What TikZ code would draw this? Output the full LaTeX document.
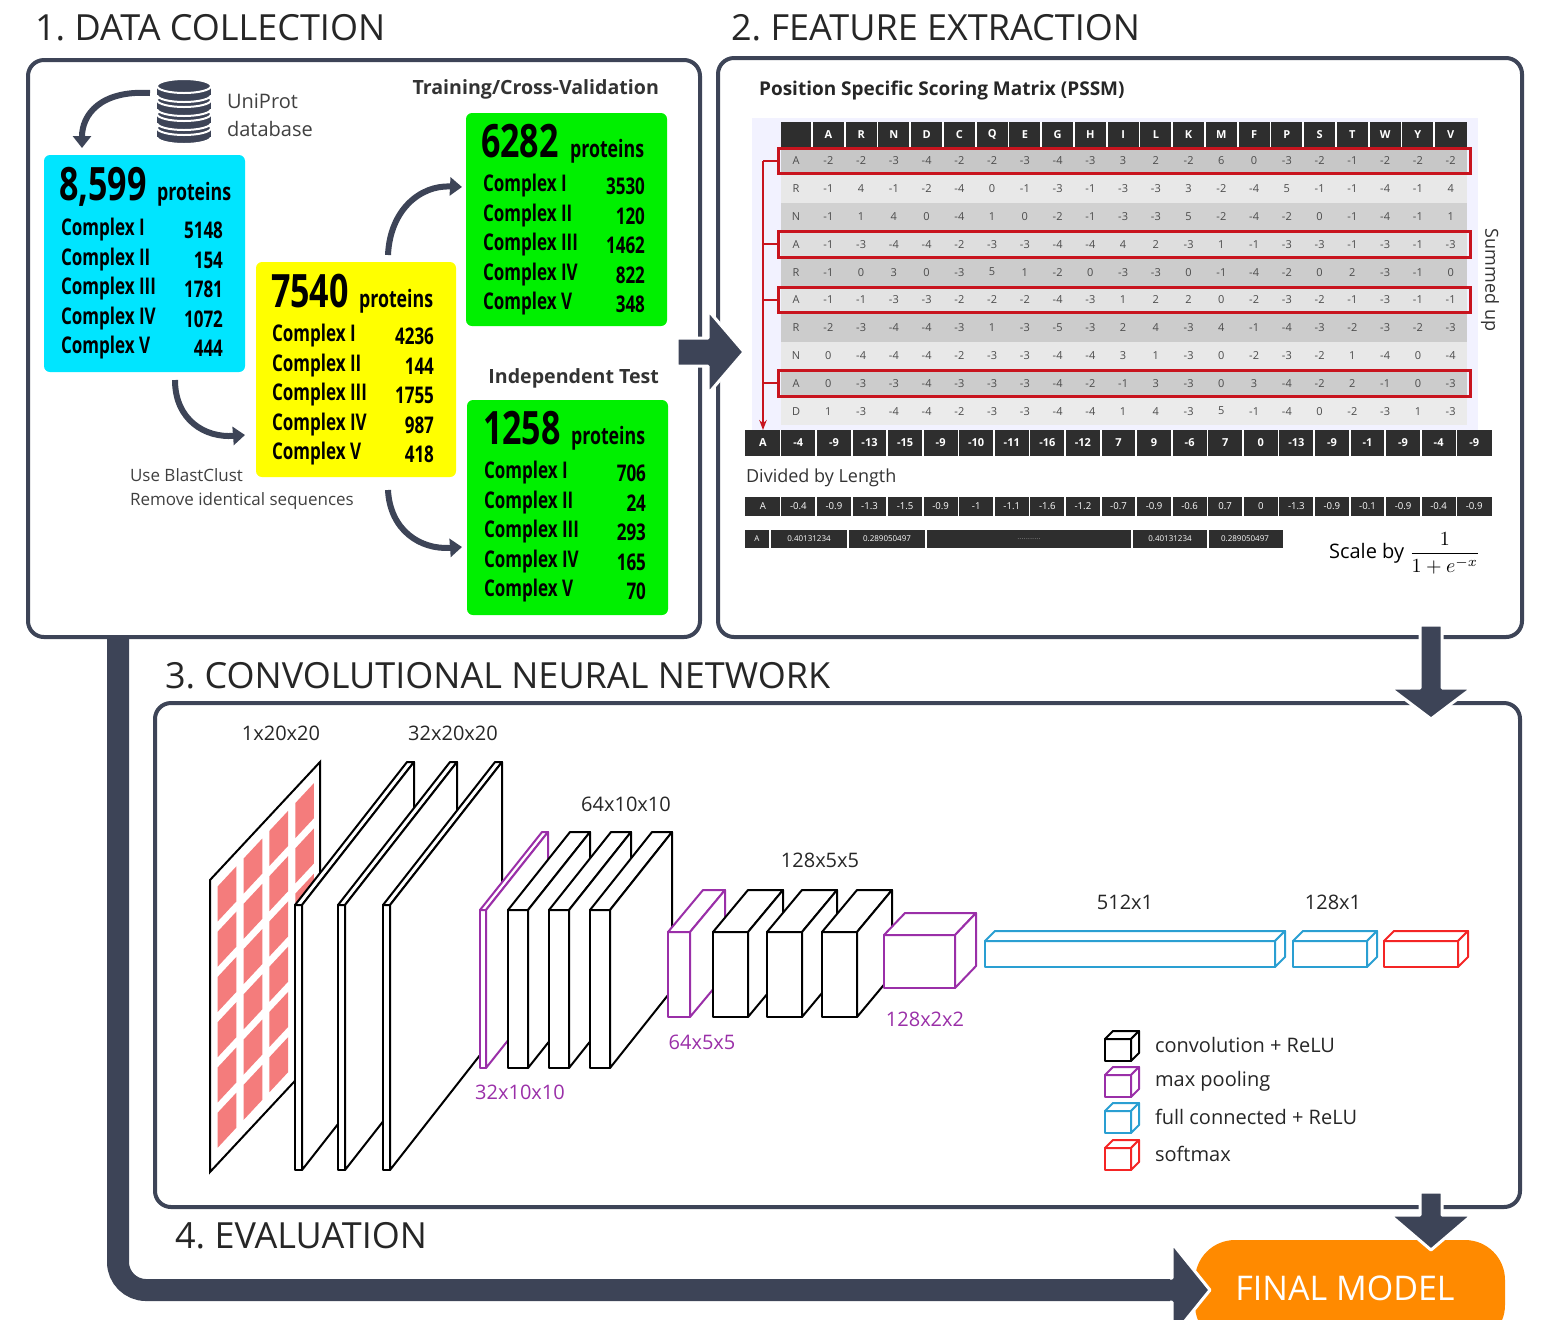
\documentclass[tikz,border=0pt]{standalone}
\usepackage{fontspec}
\setmainfont{Open Sans}
\newfontfamily\cond{Open Sans}[FakeStretch=0.74]
\usetikzlibrary{arrows.meta}
\definecolor{dk}{HTML}{3D4457}
\definecolor{cyanb}{HTML}{00E5FF}
\definecolor{yelb}{HTML}{FFFF00}
\definecolor{grnb}{HTML}{00F000}
\definecolor{purp}{HTML}{9A2FA8}
\definecolor{bluel}{HTML}{2A9FD2}
\definecolor{redl}{HTML}{F42525}
\definecolor{pink}{HTML}{F47C7C}
\definecolor{orng}{HTML}{FF8A00}
\definecolor{mred}{HTML}{C8141E}
\definecolor{cell}{HTML}{2E2E2E}
\frenchspacing
\tikzset{
  panel/.style={draw=dk,line width=2pt,rounded corners=8pt},
  title/.style={anchor=west,font=\fontsize{18}{20}\selectfont,text=black!85},
  cnt/.style={anchor=west,font=\cond\bfseries\fontsize{11.5}{13}\selectfont},
  num/.style={anchor=east,font=\cond\bfseries\fontsize{11.5}{13}\selectfont},
  big/.style={anchor=base west,font=\cond\bfseries\fontsize{23}{25}\selectfont},
  prot/.style={anchor=base west,font=\cond\bfseries\fontsize{12}{13}\selectfont},
  small/.style={anchor=west,font=\fontsize{9.5}{11}\selectfont,text=black!75},
  curv/.style={draw=dk,line width=3pt,-{Triangle[width=9pt,length=6pt]}},
  mtx/.style={font=\fontsize{5.5}{6}\selectfont,text=black!70},
  wtx/.style={font=\bfseries\fontsize{5.5}{6}\selectfont,text=white},
  lab/.style={font=\fontsize{10}{12}\selectfont,text=black!85},
  plab/.style={font=\fontsize{10}{12}\selectfont,text=purp},
  fatarrow/.style={fill=dk,draw=white,line width=1.5pt,line join=round},
}
\newcommand\slab[7]{%
  \filldraw[fill=white,draw=#7,line width=1pt,line join=round] (#1,#2) rectangle ++(#3,#4);
  \filldraw[fill=white,draw=#7,line width=1pt,line join=round] (#1,#2) -- ++(#5,#6) -- ++(#3,0) -- ++(-#5,-#6) -- cycle;
  \filldraw[fill=white,draw=#7,line width=1pt,line join=round] (#1+#3,#2) -- ++(#5,#6) -- ++(0,#4) -- ++(-#5,-#6) -- cycle;
}
\begin{document}
\begin{tikzpicture}[x=0.5pt,y=-0.5pt]
\useasboundingbox (0,0) rectangle (1557,1319);
% ===== titles
\node[title] (t1) at (28,28) {1. DATA COLLECTION};
\node[title] (t2) at (724,28) {2. FEATURE EXTRACTION};
\node[title] (t3) at (158,676) {3. CONVOLUTIONAL NEURAL NETWORK};
\node[title] (t4) at (168,1236) {4. EVALUATION};
% ===== evaluation path
\draw[dk,line width=11pt,rounded corners=14pt] (118,637) -- (118,1290) -- (1180,1290);
% ===== panels
\draw[panel] (28,60) rectangle (700,637);
\draw[panel] (718,58) rectangle (1522,637);
\draw[panel] (155,703) rectangle (1520,1207);
% ===== panel 1
\foreach \yy in {128,114,100,86}{
  \filldraw[fill=dk,draw=white,line width=1pt] (184,\yy+9) ellipse [x radius=27,y radius=7];
  \fill[dk] (157,\yy) rectangle (211,\yy+9);
  \filldraw[fill=dk,draw=white,line width=1pt] (184,\yy) ellipse [x radius=27,y radius=7];
}
\node[small,align=left,font=\fontsize{10}{14}\selectfont] (db) at (220,115) {UniProt\\database};
\fill[cyanb,rounded corners=3pt] (44,155) rectangle (245,372);
\node[big] (n1) at (52,200) {8,599};
\node[prot] at (150,200) {proteins};
\fill[yelb,rounded corners=3pt] (256,262) rectangle (456,477);
\node[big] (n2) at (264,307) {7540};
\node[prot] at (352,307) {proteins};
\fill[grnb,rounded corners=3pt] (466,113) rectangle (667,326);
\node[big] (n3) at (474,157) {6282};
\node[prot] at (563,157) {proteins};
\fill[grnb,rounded corners=3pt] (467,400) rectangle (668,615);
\node[big] (n4) at (476,444) {1258};
\node[prot] at (564,444) {proteins};
\foreach \x/\xe/\y/\a/\b/\c/\d/\e in {
  54/230/230/5148/154/1781/1072/444,
  265/441/336/4236/144/1755/987/418,
  476/652/186/3530/120/1462/822/348,
  477/653/473/706/24/293/165/70}{
  \node[cnt] at (\x,\y) {Complex I};   \node[num] at (\xe,\y) {\a};
  \node[cnt] at (\x,\y+30) {Complex II};  \node[num] at (\xe,\y+30) {\b};
  \node[cnt] at (\x,\y+59) {Complex III}; \node[num] at (\xe,\y+59) {\c};
  \node[cnt] at (\x,\y+89) {Complex IV};  \node[num] at (\xe,\y+89) {\d};
  \node[cnt] at (\x,\y+118) {Complex V};  \node[num] at (\xe,\y+118) {\e};
}
\node[anchor=east,font=\fontsize{9.8}{11}\selectfont\bfseries,text=black!80] (tcv) at (666,89) {Training/Cross-Validation};
\node[anchor=east,font=\fontsize{9.8}{11}\selectfont\bfseries,text=black!80] (it) at (666,378) {Independent Test};
\node[small,align=left,font=\fontsize{8.5}{12}\selectfont] (bc) at (123,489) {Use BlastClust\\Remove identical sequences};
\draw[curv] (150,93) .. controls (100,90) and (82,115) .. (82,148);
\draw[curv] (175,380) .. controls (175,420) and (205,438) .. (245,435);
\draw[curv] (388,255) .. controls (390,210) and (420,185) .. (462,187);
\draw[curv] (388,490) .. controls (390,530) and (420,550) .. (462,547);
\draw[fatarrow] (677,338) -- (708,338) -- (708,310) -- (744,352) -- (708,394) -- (708,366) -- (677,366) -- cycle;
% ===== panel 2
\node[anchor=west,font=\fontsize{9.5}{11}\selectfont\bfseries,text=black!85] (pssm) at (752,91) {Position Specific Scoring Matrix (PSSM)};
\fill[blue!5] (752,118) rectangle (1478,438);
\fill[cell] (781,122) rectangle (1467,147);
\foreach \h [count=\c] in {A,R,N,D,C,Q,E,G,H,I,L,K,M,F,P,S,T,W,Y,V}{
  \draw[white,line width=0.8pt] ({812+(\c-1)*32.75},122) -- ++(0,25);
  \node[wtx] at ({812+(\c-0.5)*32.75},134.5) {\h};
}
\foreach \r/\lab/\vals/\sh in {
 1/A/{-2,-2,-3,-4,-2,-2,-3,-4,-3,3,2,-2,6,0,-3,-2,-1,-2,-2,-2}/22,
 2/R/{-1,4,-1,-2,-4,0,-1,-3,-1,-3,-3,3,-2,-4,5,-1,-1,-4,-1,4}/9,
 3/N/{-1,1,4,0,-4,1,0,-2,-1,-3,-3,5,-2,-4,-2,0,-1,-4,-1,1}/18,
 4/A/{-1,-3,-4,-4,-2,-3,-3,-4,-4,4,2,-3,1,-1,-3,-3,-1,-3,-1,-3}/13,
 5/R/{-1,0,3,0,-3,5,1,-2,0,-3,-3,0,-1,-4,-2,0,2,-3,-1,0}/20,
 6/A/{-1,-1,-3,-3,-2,-2,-2,-4,-3,1,2,2,0,-2,-3,-2,-1,-3,-1,-1}/11,
 7/R/{-2,-3,-4,-4,-3,1,-3,-5,-3,2,4,-3,4,-1,-4,-3,-2,-3,-2,-3}/20,
 8/N/{0,-4,-4,-4,-2,-3,-3,-4,-4,3,1,-3,0,-2,-3,-2,1,-4,0,-4}/9,
 9/A/{0,-3,-3,-4,-3,-3,-3,-4,-2,-1,3,-3,0,3,-4,-2,2,-1,0,-3}/20,
 10/D/{1,-3,-4,-4,-2,-3,-3,-4,-4,1,4,-3,5,-1,-4,0,-2,-3,1,-3}/8}{
  \fill[black!\sh] (781,{147+(\r-1)*27.8}) rectangle (1467,{147+\r*27.8});
  \node[mtx] at (796,{147+(\r-0.5)*27.8}) {\lab};
  \foreach \v [count=\c] in \vals {
    \node[mtx] at ({812+(\c-0.5)*32.75},{147+(\r-0.5)*27.8}) {\v};
  }
}
\foreach \r in {1,4,6,9}{
  \draw[mred,line width=1.5pt] (778,{147+(\r-1)*27.8+1}) rectangle (1470,{147+\r*27.8-1});
  \draw[mred,line width=1pt] (763,{147+(\r-0.5)*27.8}) -- (778,{147+(\r-0.5)*27.8});
}
\coordinate (sumtop) at (763,161);
\node[font=\fontsize{9}{10}\selectfont,text=black!80,rotate=-90] (sum) at (1490,280) {Summed up};
\fill[cell] (745,430) rectangle (1492,456);
\foreach \v [count=\c] in {A,-4,-9,-13,-15,-9,-10,-11,-16,-12,7,9,-6,7,0,-13,-9,-1,-9,-4,-9}{
  \node[wtx] at ({745+(\c-0.5)*35.57},443) {\v};
  \ifnum\c>1 \draw[white,line width=0.8pt] ({745+(\c-1)*35.57},430) -- ++(0,26); \fi
}
\coordinate (sumA) at (763,430);
\draw[mred,line width=1pt,-{Stealth[length=5pt]}] (sumtop) -- (sumA);
\node[anchor=west,font=\fontsize{9}{10}\selectfont,text=black!80] (dbl2) at (739,478) {Divided by Length};
\fill[cell] (745,497) rectangle (1492,516);
\foreach \v [count=\c] in {A,-0.4,-0.9,-1.3,-1.5,-0.9,-1,-1.1,-1.6,-1.2,-0.7,-0.9,-0.6,0.7,0,-1.3,-0.9,-0.1,-0.9,-0.4,-0.9}{
  \node[wtx,font=\fontsize{4.8}{5}\selectfont] at ({745+(\c-0.5)*35.57},506.5) {\v};
  \ifnum\c>1 \draw[white,line width=0.8pt] ({745+(\c-1)*35.57},497) -- ++(0,19); \fi
}
\fill[cell] (745,530) rectangle (1283,548);
\foreach \xx in {770,848,926,1132,1208}{\draw[white,line width=0.8pt] (\xx,530) -- (\xx,548);}
\node[wtx,font=\fontsize{4}{5}\selectfont] at (757,539) {A};
\node[wtx,font=\fontsize{4}{5}\selectfont] at (809,539) {0.40131234};
\node[wtx,font=\fontsize{4}{5}\selectfont] at (887,539) {0.289050497};
\node[wtx,font=\fontsize{4}{5}\selectfont,text=black!50] at (1029,539) {...........};
\node[wtx,font=\fontsize{4}{5}\selectfont] at (1170,539) {0.40131234};
\node[wtx,font=\fontsize{4}{5}\selectfont] at (1245,539) {0.289050497};
\node[anchor=west,font=\fontsize{10}{12}\selectfont] (scl) at (1322,553) {Scale by $\displaystyle\frac{1}{1+e^{-x}}$};
\draw[fatarrow] (1420,625) -- (1442,625) -- (1442,688) -- (1472,688) -- (1431,719) -- (1390,688) -- (1420,688) -- cycle;
% ===== CNN
\filldraw[fill=white,draw=black,line width=1pt] (210,880) -- (320,762) -- (320,1054) -- (210,1172) -- cycle;
\foreach \cc in {0,1,2,3}{
  \foreach \rr in {0,...,5}{
    \pgfmathsetmacro\ua{0.07+0.235*\cc}
    \pgfmathsetmacro\ub{\ua+0.17}
    \pgfmathsetmacro\va{0.05+0.155*\rr}
    \pgfmathsetmacro\vb{\va+0.12}
    \fill[pink] ({210+110*\ua},{880-118*\ua+292*\va}) -- ({210+110*\ub},{880-118*\ub+292*\va}) -- ({210+110*\ub},{880-118*\ub+292*\vb}) -- ({210+110*\ua},{880-118*\ua+292*\vb}) -- cycle;
  }
}
\slab{295}{905}{7}{265}{112}{-143}{black}
\slab{338}{905}{7}{265}{112}{-143}{black}
\slab{383}{905}{7}{265}{112}{-143}{black}
\slab{480}{910}{6}{158}{62}{-78}{purp}
\slab{508}{910}{20}{158}{62}{-78}{black}
\slab{549}{910}{20}{158}{62}{-78}{black}
\slab{590}{910}{20}{158}{62}{-78}{black}
\slab{668}{932}{22}{85}{35}{-42}{purp}
\slab{713}{932}{35}{85}{35}{-42}{black}
\slab{767}{932}{35}{85}{35}{-42}{black}
\slab{822}{932}{35}{85}{35}{-42}{black}
\slab{884}{935}{71}{53}{21}{-22}{purp}
\slab{985}{941}{290}{26}{10}{-10}{bluel}
\slab{1293}{941}{74}{26}{10}{-10}{bluel}
\slab{1384}{941}{74}{26}{10}{-10}{redl}
\node[lab] (l1) at (281,733) {1x20x20};
\node[lab] (l2) at (453,733) {32x20x20};
\node[lab] (l3) at (626,804) {64x10x10};
\node[lab] (l4) at (820,860) {128x5x5};
\node[lab] (l5) at (1125,902) {512x1};
\node[lab] (l6) at (1333,902) {128x1};
\node[plab] (p1) at (520,1092) {32x10x10};
\node[plab] (p2) at (702,1042) {64x5x5};
\node[plab] (p3) at (925,1019) {128x2x2};
\foreach \y/\col/\t in {1048/black/convolution + ReLU,1084/purp/max pooling,1120/bluel/full connected + ReLU,1157/redl/softmax}{
  \slab{1105}{\y-9}{26}{22}{8}{-8}{\col}
  \node[anchor=west,font=\fontsize{10}{12}\selectfont,text=black!85] at (1148,\y-3) {\t};
}
% ===== final model
\fill[orng,rounded corners=20pt] (1195,1240) rectangle (1505,1345);
\node[font=\fontsize{17}{19}\selectfont,text=white] (fm) at (1345,1288) {FINAL MODEL};
\draw[fatarrow] (1420,1192) -- (1442,1192) -- (1442,1215) -- (1472,1215) -- (1431,1250) -- (1390,1215) -- (1420,1215) -- cycle;
\draw[fatarrow] (1170,1278) -- (1172,1278) -- (1172,1243) -- (1210,1290) -- (1172,1337) -- (1172,1302) -- (1170,1302);
\end{tikzpicture}
\end{document}
